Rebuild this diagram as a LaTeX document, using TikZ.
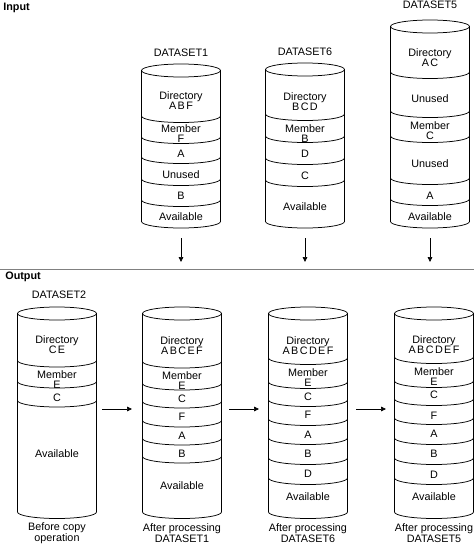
\documentclass[tikz,border=0pt]{standalone}
\usepackage{fontspec}
\setmainfont{Liberation Sans}
\newfontfamily\dirfont[LetterSpace=13]{Liberation Sans}
\usetikzlibrary{arrows.meta}

\def\drumrx{39.5}
\def\drumry{6.5}

% cylinder: centre x, top y, bottom y
\newcommand{\drum}[3]{%
  \draw (#1-\drumrx,#2) -- (#1-\drumrx,#3) arc[start angle=180, end angle=360, x radius=\drumrx, y radius=\drumry] -- (#1+\drumrx,#2);
  \draw (#1,#2) ellipse[x radius=\drumrx, y radius=\drumry];
}
% dividers: centre x, list of y
\newcommand{\slices}[2]{%
  \foreach \y in {#2} \draw (#1-\drumrx,\y) arc[start angle=180, end angle=360, x radius=\drumrx, y radius=\drumry];
}

\begin{document}
\begin{tikzpicture}[x=1pt, y=1pt, line width=0.75pt,
    lbl/.style={font=\fontsize{10.8}{10}\selectfont, align=center, inner sep=0pt},
    capline/.style={font=\fontsize{10.8}{11}\selectfont, align=center, inner sep=0pt},
    head/.style={font=\fontsize{10.8}{12}\selectfont\bfseries, anchor=west, inner sep=0pt},
    arr/.style={-{Triangle[length=5pt, width=4.6pt]}, line width=0.6pt}]
  \useasboundingbox (0,0) rectangle (474,-546);

  % input
  \node[head] (input) at (3,-8) {Input};

  \node[lbl] (in1name) at (181,-53) {DATASET1};
  \drum{181}{-70.5}{-221.5}
  \slices{181}{-116,-137,-157,-179,-200}
  \node[lbl] (in1dir) at (181,-101) {Directory\\{\dirfont ABF}};
  \node[lbl] (in1f) at (181,-134) {Member\\F};
  \node[lbl] (in1a) at (181,-154) {A};
  \node[lbl] (in1u) at (181,-175) {Unused};
  \node[lbl] (in1b) at (181,-196) {B};
  \node[lbl] (in1av) at (181,-217) {Available};

  \node[lbl] (in6name) at (305,-52) {DATASET6};
  \drum{305}{-69.5}{-221.5}
  \slices{305}{-114,-136,-158,-180}
  \node[lbl] (in6dir) at (305,-102) {Directory\\{\dirfont BCD}};
  \node[lbl] (in6b) at (305,-133.5) {Member\\B};
  \node[lbl] (in6d) at (305,-153.5) {D};
  \node[lbl] (in6c) at (305,-175.5) {C};
  \node[lbl] (in6av) at (305,-207) {Available};

  \node[lbl] (in5name) at (430,-5) {DATASET5};
  \drum{430}{-26.5}{-221.5}
  \slices{430}{-72,-111,-136,-178,-199}
  \node[lbl] (in5dir) at (430,-57.5) {Directory\\{\dirfont AC}};
  \node[lbl] (in5u) at (430,-99) {Unused};
  \node[lbl] (in5c) at (430,-130.5) {Member\\C};
  \node[lbl] (in5uu) at (430,-164) {Unused};
  \node[lbl] (in5a) at (430,-196) {A};
  \node[lbl] (in5av) at (430,-217) {Available};

  \coordinate (in1s) at (181,-238);
  \coordinate (in1t) at (181,-262);
  \coordinate (in6s) at (305,-238);
  \coordinate (in6t) at (305,-262);
  \coordinate (in5s) at (430,-238);
  \coordinate (in5t) at (430,-262);
  \draw[arr] (in1s) -- (in1t);
  \draw[arr] (in6s) -- (in6t);
  \draw[arr] (in5s) -- (in5t);

  \coordinate (ruleL) at (0,-269);
  \coordinate (ruleR) at (474,-269);
  \draw[gray, line width=0.6pt] (ruleL) -- (ruleR);

  % output
  \node[head] (output) at (5,-277) {Output};

  \node[lbl] (out0name) at (59,-295) {DATASET2};
  \drum{57}{-313.5}{-512}
  \slices{57}{-360.5,-381.5,-400.5}
  \node[lbl] (out0dir) at (57,-345) {Directory\\{\dirfont CE}};
  \node[lbl] (out0e) at (57,-379.5) {Member\\E};
  \node[lbl] (out0c) at (57,-398) {C};
  \node[lbl] (out0av) at (57,-454) {Available};
  \node[capline] (out0cap) at (57,-533.5) {Before copy\\operation};

  \drum{182}{-313.5}{-512}
  \slices{182}{-361.5,-383.5,-401.5,-420.5,-438.5,-456.5}
  \node[lbl] (out1dir) at (182,-346) {Directory\\{\dirfont ABCEF}};
  \node[lbl] (out1e) at (182,-381) {Member\\E};
  \node[lbl] (out1c) at (182,-399) {C};
  \node[lbl] (out1f) at (182,-417) {F};
  \node[lbl] (out1a) at (182,-436) {A};
  \node[lbl] (out1b) at (182,-454) {B};
  \node[lbl] (out1av) at (182,-486) {Available};
  \node[capline] (out1cap) at (182,-533.5) {After processing\\DATASET1};

  \drum{308}{-313.5}{-512}
  \slices{308}{-358,-382,-400,-419,-438,-458,-478}
  \node[lbl] (out6dir) at (308,-346) {Directory\\{\dirfont ABCDEF}};
  \node[lbl] (out6e) at (308,-378) {Member\\E};
  \node[lbl] (out6c) at (308,-397) {C};
  \node[lbl] (out6f) at (308,-415) {F};
  \node[lbl] (out6a) at (308,-435) {A};
  \node[lbl] (out6b) at (308,-454) {B};
  \node[lbl] (out6d) at (308,-474) {D};
  \node[lbl] (out6av) at (308,-497) {Available};
  \node[capline] (out6cap) at (308,-533.5) {After processing\\DATASET6};

  \drum{434}{-313.5}{-512}
  \slices{434}{-357,-381,-399,-418,-438,-458,-478}
  \node[lbl] (out5dir) at (434,-345) {Directory\\{\dirfont ABCDEF}};
  \node[lbl] (out5e) at (434,-377) {Member\\E};
  \node[lbl] (out5c) at (434,-395) {C};
  \node[lbl] (out5f) at (434,-416) {F};
  \node[lbl] (out5a) at (434,-434) {A};
  \node[lbl] (out5b) at (434,-454) {B};
  \node[lbl] (out5d) at (434,-475) {D};
  \node[lbl] (out5av) at (434,-497) {Available};
  \node[capline] (out5cap) at (434,-533.5) {After processing\\DATASET5};

  \coordinate (s01) at (102,-409);
  \coordinate (t01) at (132,-409);
  \coordinate (s16) at (229,-409);
  \coordinate (t16) at (259,-409);
  \coordinate (s65) at (356,-409);
  \coordinate (t65) at (386,-409);
  \draw[arr] (s01) -- (t01);
  \draw[arr] (s16) -- (t16);
  \draw[arr] (s65) -- (t65);
\end{tikzpicture}
\end{document}
